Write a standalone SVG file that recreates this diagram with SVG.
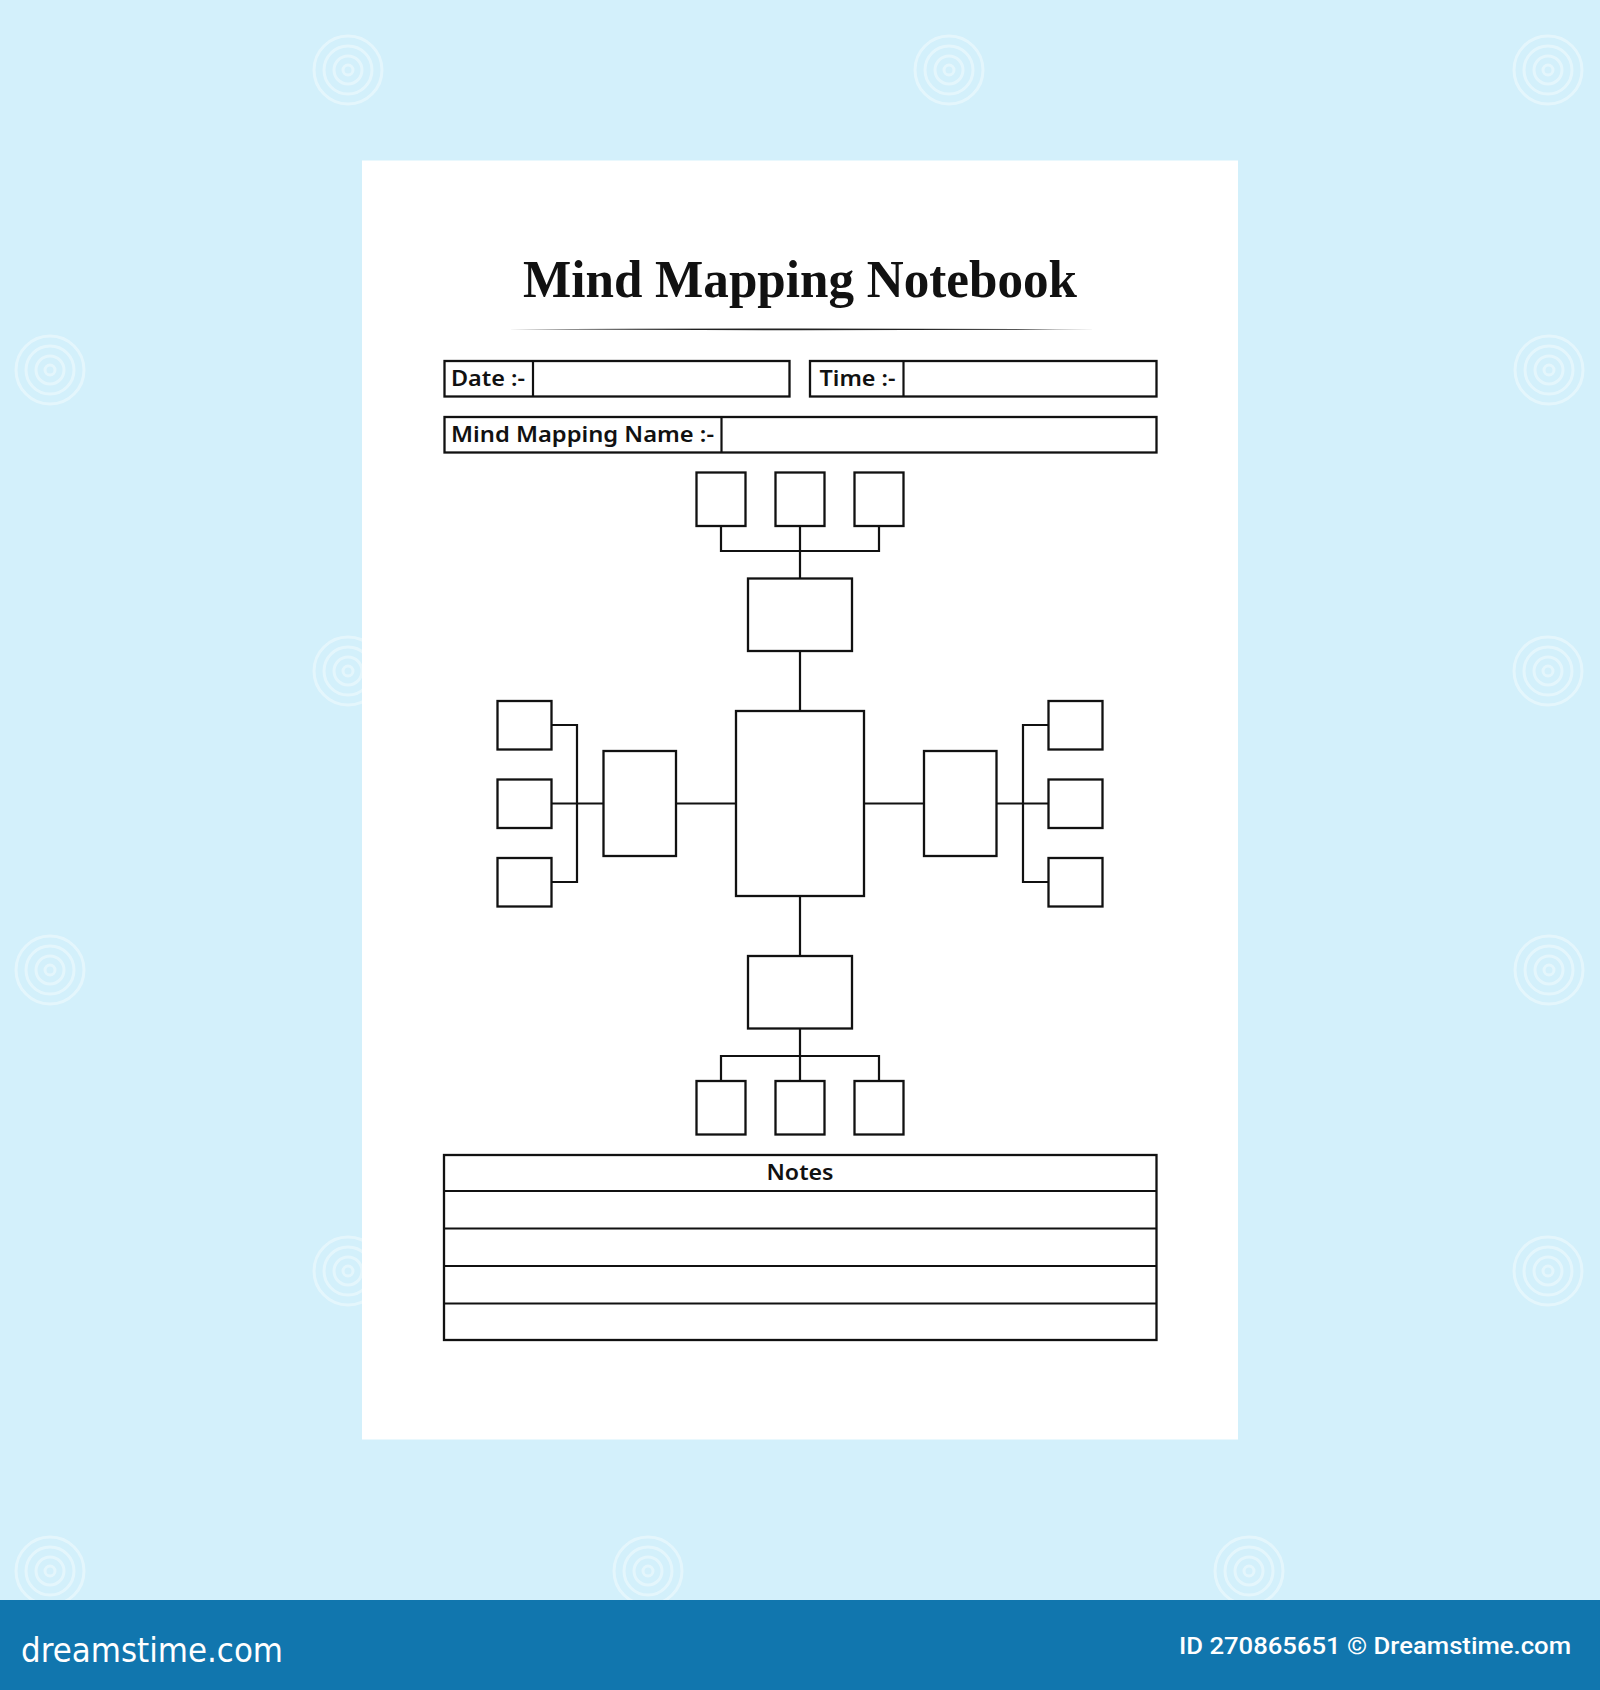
<svg xmlns="http://www.w3.org/2000/svg" width="1600" height="1690" viewBox="0 0 1600 1690">
<style>
.box{fill:#fff;stroke:#111;stroke-width:2.3}
.ln{fill:none;stroke:#111;stroke-width:2.2}
.lbl{font-family:"Noto Sans","Open Sans",sans-serif;font-weight:600;font-size:22px;fill:#111}
.wm{fill:none;stroke:#fff;stroke-width:3;opacity:0.4}
</style>
<defs>
<g id="spiral">
<circle r="34" class="wm"/><circle r="24" class="wm"/><circle r="14" class="wm"/><circle r="5" class="wm"/>
</g>
</defs>
<rect width="1600" height="1690" fill="#d3f0fb"/>
<g id="watermarks">
<use href="#spiral" x="348" y="70"/><use href="#spiral" x="949" y="70"/><use href="#spiral" x="1548" y="70"/>
<use href="#spiral" x="50" y="370"/><use href="#spiral" x="1549" y="370"/>
<use href="#spiral" x="348" y="671"/><use href="#spiral" x="1548" y="671"/>
<use href="#spiral" x="50" y="970"/><use href="#spiral" x="1549" y="970"/>
<use href="#spiral" x="348" y="1271"/><use href="#spiral" x="1548" y="1271"/>
<use href="#spiral" x="50" y="1571"/><use href="#spiral" x="648" y="1571"/><use href="#spiral" x="1249" y="1571"/>
</g>
<rect id="page" x="362" y="160.5" width="876" height="1279" fill="#fff"/>
<g id="title">
<text x="800" y="297" text-anchor="middle" font-family="Liberation Serif, serif" font-weight="bold" font-size="52" textLength="554" lengthAdjust="spacingAndGlyphs" fill="#111">Mind Mapping Notebook</text>
<path d="M503.5 329.3 Q800 327.6 1096.5 329.3 Q800 331 503.5 329.3 Z" fill="#222"/>
</g>
<g id="date-field">
<rect class="box" x="444.5" y="361" width="345" height="35.5"/>
<line class="ln" x1="533" y1="361" x2="533" y2="396.5"/>
<text class="lbl" x="451" y="386" textLength="74" lengthAdjust="spacingAndGlyphs">Date :-</text>
</g>
<g id="time-field">
<rect class="box" x="810" y="361" width="346.5" height="35.5"/>
<line class="ln" x1="903.5" y1="361" x2="903.5" y2="396.5"/>
<text class="lbl" x="819.5" y="386" textLength="76" lengthAdjust="spacingAndGlyphs">Time :-</text>
</g>
<g id="name-field">
<rect class="box" x="444.5" y="417" width="712" height="35.5"/>
<line class="ln" x1="721.5" y1="417" x2="721.5" y2="452.5"/>
<text class="lbl" x="451" y="442" textLength="263" lengthAdjust="spacingAndGlyphs">Mind Mapping Name :-</text>
</g>
<g id="connectors">
<path class="ln" d="M721 526V551H879V526M800 526V578.5M800 651V711"/>
<path class="ln" d="M800 896V956M800 1028.5V1081M721 1081V1056H879V1081"/>
<path class="ln" d="M736 803.5H676M603.5 803.5H551.5M551.5 725H577V882H551.5"/>
<path class="ln" d="M864 803.5H924M996.5 803.5H1048.5M1048.5 725H1023V882H1048.5"/>
</g>
<g id="node-center"><rect class="box" x="736" y="711" width="128" height="185"/></g>
<g id="node-top"><rect class="box" x="748" y="578.5" width="104" height="72.5"/></g>
<g id="node-bottom"><rect class="box" x="748" y="956" width="104" height="72.5"/></g>
<g id="node-left"><rect class="box" x="603.5" y="751" width="72.5" height="105"/></g>
<g id="node-right"><rect class="box" x="924" y="751" width="72.5" height="105"/></g>
<g id="node-top-1"><rect class="box" x="696.5" y="472.5" width="49" height="53.5"/></g>
<g id="node-top-2"><rect class="box" x="775.5" y="472.5" width="49" height="53.5"/></g>
<g id="node-top-3"><rect class="box" x="854.5" y="472.5" width="49" height="53.5"/></g>
<g id="node-bottom-1"><rect class="box" x="696.5" y="1081" width="49" height="53.5"/></g>
<g id="node-bottom-2"><rect class="box" x="775.5" y="1081" width="49" height="53.5"/></g>
<g id="node-bottom-3"><rect class="box" x="854.5" y="1081" width="49" height="53.5"/></g>
<g id="node-left-1"><rect class="box" x="497.5" y="701" width="54" height="48.5"/></g>
<g id="node-left-2"><rect class="box" x="497.5" y="779.5" width="54" height="48.5"/></g>
<g id="node-left-3"><rect class="box" x="497.5" y="858" width="54" height="48.5"/></g>
<g id="node-right-1"><rect class="box" x="1048.5" y="701" width="54" height="48.5"/></g>
<g id="node-right-2"><rect class="box" x="1048.5" y="779.5" width="54" height="48.5"/></g>
<g id="node-right-3"><rect class="box" x="1048.5" y="858" width="54" height="48.5"/></g>
<g id="notes">
<rect class="box" x="444" y="1155" width="712.5" height="185"/>
<path class="ln" d="M444 1191H1156.5M444 1228.5H1156.5M444 1266H1156.5M444 1303.5H1156.5"/>
<text class="lbl" x="800" y="1179.5" text-anchor="middle" textLength="67" lengthAdjust="spacingAndGlyphs">Notes</text>
</g>
<g id="footer">
<rect x="0" y="1600" width="1600" height="90" fill="#1176ae"/>
<text x="21" y="1662" font-family="DejaVu Sans, sans-serif" font-size="34" fill="#fff" textLength="262" lengthAdjust="spacingAndGlyphs">dreamstime.com</text>
<text x="1571" y="1654" text-anchor="end" font-family="Roboto, sans-serif" font-weight="500" font-size="23" fill="#fff" textLength="392" lengthAdjust="spacingAndGlyphs">ID 270865651 © Dreamstime.com</text>
</g>
</svg>
